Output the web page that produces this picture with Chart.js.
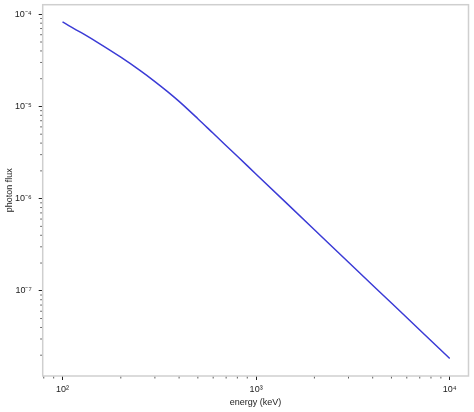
<!DOCTYPE html>
<html>
<head>
<meta charset="utf-8">
<script src="https://cdn.jsdelivr.net/npm/chart.js@4"></script>
<style>
  html, body { margin: 0; padding: 0; background: #fff; }
  #wrap { width: 474px; height: 412px; }
</style>
</head>
<body>
<div id="wrap"><canvas id="fluxChart"></canvas></div>
<script>
// values (energy in keV, photon flux)
const energies = [100, 125, 150, 200, 250, 300, 350, 400, 500, 600, 800, 1000, 2000, 3000, 5000, 7000, 10000];
const flux = [8.25e-5, 6.31e-5, 5.02e-5, 3.42e-5, 2.475e-5, 1.863e-5, 1.44e-5, 1.135e-5, 7.36e-6, 5.11e-6, 2.88e-6, 1.84e-6, 4.6e-7, 2.04e-7, 7.36e-8, 3.76e-8, 1.84e-8];
const xTicks = [100, 1000, 10000];
const yTicks = [1e-7, 1e-6, 1e-5, 1e-4];

const supers = { '-': '\u207B', '0': '\u2070', '1': '\u00B9', '2': '\u00B2', '3': '\u00B3', '4': '\u2074', '5': '\u2075', '6': '\u2076', '7': '\u2077', '8': '\u2078', '9': '\u2079' };
function powLabel(v) {
    const p = String(Math.round(Math.log10(v)));
    return '10' + p.split('').map(c => supers[c]).join('');
}

const font = { family: '"Liberation Sans", Arial, sans-serif', size: 9 };

// frame round the plot and the small minor ticks
const framePlugin = {
    id: 'frame',
    afterDraw(chart) {
        const ctx = chart.ctx;
        const a = chart.chartArea;
        ctx.save();
        ctx.strokeStyle = '#cfcfcf';
        ctx.lineWidth = 1.5;
        ctx.strokeRect(a.left, a.top, a.right - a.left, a.bottom - a.top);

        ctx.strokeStyle = '#333';
        ctx.lineWidth = 0.8;
        const xs = chart.scales.x, ys = chart.scales.y;
        for (let d = -9; d <= 5; d++) {
            for (let k = 2; k <= 9; k++) {
                const v = k * Math.pow(10, d);
                if (v > xs.min && v < xs.max) {
                    const px = xs.getPixelForValue(v);
                    ctx.beginPath();
                    ctx.moveTo(px, a.bottom + 0.8);
                    ctx.lineTo(px, a.bottom + 2.5);
                    ctx.stroke();
                }
                if (v > ys.min && v < ys.max) {
                    const py = ys.getPixelForValue(v);
                    ctx.beginPath();
                    ctx.moveTo(a.left - 0.8, py);
                    ctx.lineTo(a.left - 2.5, py);
                    ctx.stroke();
                }
            }
        }
        ctx.restore();
    }
};

const ctx = document.getElementById('fluxChart').getContext('2d');
new Chart(ctx, {
    type: 'line',
    data: {
        datasets: [{
            data: energies.map((e, i) => ({ x: e, y: flux[i] })),
            borderColor: '#3b3bd6',
            borderWidth: 1.5,
            pointRadius: 0,
            cubicInterpolationMode: 'monotone',
            fill: false
        }]
    },
    options: {
        responsive: true,
        maintainAspectRatio: false,
        animation: false,
        layout: { padding: { top: 4.7, right: 5.5, left: 0, bottom: 0 } },
        plugins: { legend: { display: false }, tooltip: { enabled: false } },
        scales: {
            x: {
                type: 'logarithmic',
                min: 79,
                max: 12500,
                afterBuildTicks: scale => { scale.ticks = xTicks.map(v => ({ value: v })); },
                afterFit: scale => {
                    scale.height = 36;
                    scale.paddingLeft = 0;
                    scale.paddingRight = 0;
                },
                border: { display: false },
                grid: { drawOnChartArea: false, drawTicks: true, tickLength: 4, tickColor: '#222', tickWidth: 1 },
                ticks: { callback: v => powLabel(v), font: font, color: '#222', padding: 4, maxRotation: 0, autoSkip: false },
                title: { display: true, text: 'energy (keV)', font: font, color: '#222', padding: { top: 0, bottom: 4 } }
            },
            y: {
                type: 'logarithmic',
                min: 1.19e-8,
                max: 1.27e-4,
                afterBuildTicks: scale => { scale.ticks = yTicks.map(v => ({ value: v })); },
                afterFit: scale => {
                    scale.width = 42.7;
                    scale.paddingTop = 0;
                    scale.paddingBottom = 0;
                },
                border: { display: false },
                grid: { drawOnChartArea: false, drawTicks: true, tickLength: 4, tickColor: '#222', tickWidth: 1 },
                ticks: { callback: v => powLabel(v), font: font, color: '#222', padding: 7, autoSkip: false },
                title: { display: true, text: 'photon flux', font: font, color: '#222', padding: { top: 4.5, bottom: 0 } }
            }
        }
    },
    plugins: [framePlugin]
});
</script>
</body>
</html>
